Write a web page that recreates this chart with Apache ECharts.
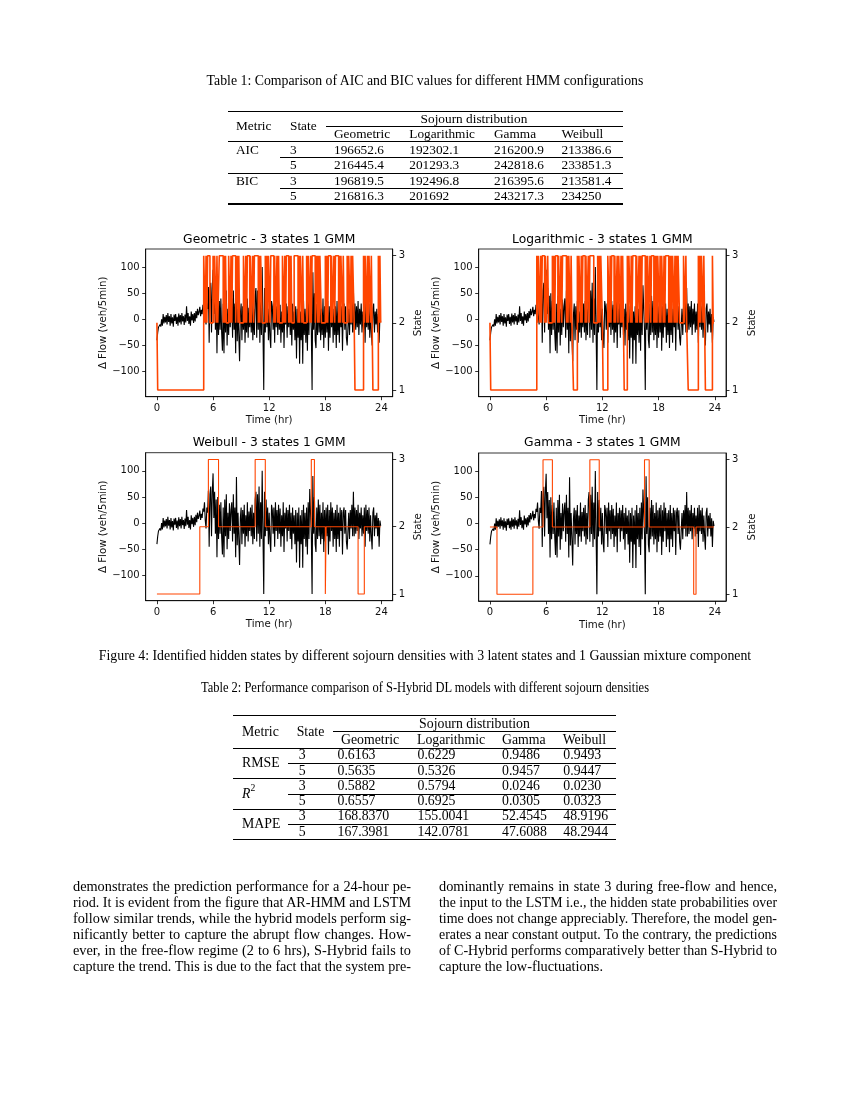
<!DOCTYPE html>
<html><head><meta charset="utf-8">
<script src="https://cdn.jsdelivr.net/npm/echarts@6/dist/echarts.min.js"></script>
<style>
html,body{margin:0;padding:0;background:#fff;}
#page{position:relative;width:850px;height:1100px;overflow:hidden;font-family:"Liberation Serif","Times New Roman",serif;color:#000;background:#fff;}
#chart{position:absolute;left:0;top:0;width:850px;height:1100px;}
.t{position:absolute;white-space:nowrap;line-height:1;transform-origin:0 50%;}
.rule{position:absolute;background:#000;}
sup{font-size:70%;line-height:0;position:relative;top:-0.1em;vertical-align:super;}
</style></head><body><div id="page"><div id="chart"></div></div>
<script>
// ---------------- DATA ----------------
const table1Caption = "Table 1: Comparison of AIC and BIC values for different HMM configurations";
const figureCaption = "Figure 4: Identified hidden states by different sojourn densities with 3 latent states and 1 Gaussian mixture component";
const table2Caption = "Table 2: Performance comparison of S-Hybrid DL models with different sojourn densities";
const sojournHeader = "Sojourn distribution";
const distributions = ["Geometric", "Logarithmic", "Gamma", "Weibull"];
const table1Metrics = ["AIC", "BIC"];
const stateCounts = ["3", "5"];
const table1Values = [
  ["196652.6", "192302.1", "216200.9", "213386.6"],
  ["216445.4", "201293.3", "242818.6", "233851.3"],
  ["196819.5", "192496.8", "216395.6", "213581.4"],
  ["216816.3", "201692", "243217.3", "234250"]
];
const table2Metrics = ["RMSE", "<i>R</i><sup>2</sup>", "MAPE"];
const table2Values = [
  ["0.6163", "0.6229", "0.9486", "0.9493"],
  ["0.5635", "0.5326", "0.9457", "0.9447"],
  ["0.5882", "0.5794", "0.0246", "0.0230"],
  ["0.6557", "0.6925", "0.0305", "0.0323"],
  ["168.8370", "155.0041", "52.4545", "48.9196"],
  ["167.3981", "142.0781", "47.6088", "48.2944"]
];
const leftColumnLines = [
  "demonstrates the prediction performance for a 24-hour pe-",
  "riod. It is evident from the figure that AR-HMM and LSTM",
  "follow similar trends, while the hybrid models perform sig-",
  "nificantly better to capture the abrupt flow changes. How-",
  "ever, in the free-flow regime (2 to 6 hrs), S-Hybrid fails to",
  "capture the trend. This is due to the fact that the system pre-"
];
const rightColumnLines = [
  "dominantly remains in state 3 during free-flow and hence,",
  "the input to the LSTM i.e., the hidden state probabilities over",
  "time does not change appreciably. Therefore, the model gen-",
  "erates a near constant output. To the contrary, the predictions",
  "of C-Hybrid performs comparatively better than S-Hybrid to",
  "capture the low-fluctuations."
];

// chart data: 5-minute samples over 24 hours (12 per hour)
const samplesPerHour = 12;
const flowDelta = [
  -40,-25,-15,-18,-10,-14,0,-12,10,-8,5,-6,
  8,-10,12,-5,6,-12,10,-8,4,-14,9,-3,
  10,-9,5,-12,11,-6,8,-10,12,-4,6,-11,
  9,-6,25,-3,12,-9,6,-12,15,-2,10,-7,
  12,-4,16,2,20,8,14,24,6,18,10,28,
  22,40,5,-10,30,20,62,-45,55,70,-25,60,
  95,10,60,-20,45,-65,50,-30,35,-20,40,-25,
  -60,30,-65,45,-25,55,-50,20,-30,38,-15,25,
  40,-35,55,-20,30,-65,88,-42,20,-30,-80,10,
  30,-40,25,-20,35,-45,15,-25,40,-35,22,-15,
  30,-25,35,-40,20,-30,45,60,-35,55,-20,70,
  -45,40,-30,100,-20,-135,60,-25,45,-15,30,-40,
  20,-35,-55,35,25,-20,30,-45,40,-15,25,-30,
  35,-20,28,-45,15,-25,40,-55,20,-10,30,-35,
  25,-15,35,-30,20,-50,30,-20,15,-40,25,-75,
  20,-35,30,-85,15,-40,25,-85,35,-30,20,-45,
  30,-60,40,-30,65,20,-20,-135,90,-20,50,-40,
  -55,30,-30,45,-25,35,-40,20,-30,40,-55,25,
  -35,30,-25,35,-60,25,-35,40,-15,30,-45,20,
  -30,25,-55,35,-30,20,-45,30,-15,25,-60,20,
  30,-20,25,-35,-50,-15,20,-30,25,-10,35,-25,
  60,-25,30,-20,25,-15,35,-30,20,-10,30,-25,
  15,-20,30,-45,35,-15,25,-20,30,-35,15,-25,
  -50,20,30,-25,15,-10,20,-25,10,-45,5,-5
];
// hidden state change points: [sample index, state]
const stateGeometric = [[0,2],[1,1],[60,3],[62,2],[63,3],[64,2],[65,3],[68,2],[72,3],[73,2],[74,3],[76,2],[77,3],[78,2],[80,3],[85,2],[86,3],[87,2],[88,3],[89,2],[92,3],[94,2],[95,3],[96,2],[97,3],[101,2],[103,3],[104,2],[105,3],[106,2],[111,3],[113,2],[114,3],[115,2],[116,3],[119,2],[120,3],[121,2],[123,3],[124,2],[125,3],[130,2],[131,3],[132,2],[133,3],[135,2],[139,3],[140,2],[141,3],[142,2],[143,3],[145,2],[146,3],[150,2],[151,3],[152,2],[154,3],[155,2],[156,3],[157,2],[161,3],[163,2],[164,3],[165,2],[166,3],[169,2],[170,3],[171,2],[172,3],[173,2],[176,3],[181,2],[182,3],[183,2],[184,3],[186,2],[187,3],[188,2],[192,3],[193,2],[194,3],[196,2],[197,3],[198,2],[199,3],[203,2],[205,3],[206,2],[207,3],[208,2],[209,3],[211,2],[216,3],[217,2],[218,3],[219,2],[220,3],[223,2],[224,3],[225,2],[227,3],[228,2],[229,3],[233,2],[234,3],[235,2],[236,3],[238,2],[239,3],[240,2],[244,3],[245,2],[246,3],[248,2],[249,3],[250,2],[251,3],[253,2],[254,1],[265,3],[266,2],[267,3],[269,2],[270,3],[271,2],[272,3],[274,2],[275,3],[276,2],[277,1],[284,3],[285,2],[286,3],[287,2]];
const stateLogarithmic = [[0,2],[1,1],[60,3],[61,2],[62,3],[64,2],[65,3],[66,2],[67,3],[70,2],[71,3],[72,2],[74,3],[75,2],[80,3],[81,2],[82,3],[83,2],[84,3],[87,2],[88,3],[89,2],[91,3],[92,2],[93,3],[98,2],[99,3],[100,2],[101,3],[103,2],[104,3],[105,2],[107,1],[112,3],[113,2],[114,3],[116,2],[117,3],[118,2],[119,3],[122,2],[123,3],[124,2],[126,3],[127,2],[128,3],[133,2],[138,3],[139,2],[140,3],[141,2],[142,3],[144,2],[145,1],[151,3],[153,2],[154,3],[155,2],[156,3],[159,2],[160,3],[161,2],[163,3],[164,2],[165,3],[167,2],[168,3],[169,2],[170,3],[171,2],[172,1],[176,3],[177,2],[178,3],[180,2],[181,3],[182,2],[183,3],[187,2],[188,3],[189,2],[191,3],[192,2],[193,3],[194,2],[195,3],[199,2],[200,3],[201,2],[202,3],[203,2],[205,3],[206,2],[207,3],[210,2],[211,3],[212,2],[213,3],[214,2],[215,3],[217,2],[218,3],[219,2],[220,3],[222,2],[223,3],[224,2],[225,3],[229,2],[230,3],[231,2],[232,3],[233,2],[234,3],[236,2],[237,3],[238,2],[239,3],[240,2],[241,3],[243,2],[248,3],[249,2],[251,3],[252,2],[254,1],[267,3],[268,2],[269,3],[270,2],[271,3],[273,2],[274,3],[275,2],[276,1],[285,3],[286,2]];
const stateWeibull = [[0,1],[55,2],[66,3],[79,2],[126,3],[139,2],[198,3],[202,2],[216,1],[217,2],[258,1],[266,2]];
const stateGamma = [[0,2],[9,1],[55,2],[68,3],[80,2],[128,3],[140,2],[198,3],[204,2],[261,1],[264,2]];
const panelTitles = ["Geometric - 3 states 1 GMM", "Logarithmic - 3 states 1 GMM", "Weibull - 3 states 1 GMM", "Gamma - 3 states 1 GMM"];
const panelStates = [stateGeometric, stateLogarithmic, stateWeibull, stateGamma];
const timeTicks = [0, 6, 12, 18, 24];
const flowTicks = [-100, -50, 0, 50, 100];
const stateTicks = [1, 2, 3];
const xAxisName = "Time (hr)";
const flowAxisName = "\u0394 Flow (veh/5min)";
const stateAxisName = "State";

// ---------------- LAYOUT ----------------
const page = document.getElementById('page');
const FS = 13.3;
function put(text, x, y, o = {}) {
  const d = document.createElement('div');
  d.className = 't';
  if (o.html) d.innerHTML = text; else d.textContent = text;
  const size = o.size || FS;
  d.style.fontSize = size + 'px';
  d.style.top = (y - size / 2) + 'px';
  d.style.left = x + 'px';
  page.appendChild(d);
  const w = d.getBoundingClientRect().width;
  if (o.width) {
    d.style.transform = 'scaleX(' + (o.width / w) + ')';
    if (o.align === 'center') d.style.left = (x - o.width / 2) + 'px';
  } else if (o.align === 'center') {
    d.style.left = (x - w / 2) + 'px';
  }
  return d;
}
function rule(x1, x2, y, t = 1) {
  const d = document.createElement('div');
  d.className = 'rule';
  d.style.left = x1 + 'px'; d.style.width = (x2 - x1) + 'px';
  d.style.top = (y - t / 2) + 'px'; d.style.height = t + 'px';
  page.appendChild(d);
}
function justifyLine(text, x, y, W, justify, size) {
  const d = put(text, x, y, {size: size});
  const w = d.getBoundingClientRect().width;
  if (w > W) d.style.transform = 'scaleX(' + (W / w) + ')';
  else if (justify) {
    const n = (text.match(/ /g) || []).length;
    if (n) d.style.wordSpacing = ((W - w) / n) + 'px';
  }
}

// Table 1
put(table1Caption, 425, 81, {align: 'center', size: 13.8});
rule(228, 623, 111.5, 1.2);
rule(326, 623, 126.7, 0.8);
rule(228, 623, 141.7, 0.8);
rule(280, 623, 157.7, 0.8);
rule(228, 623, 173.3, 0.8);
rule(280, 623, 188.3, 0.8);
rule(228, 623, 204, 1.2);
put(sojournHeader, 474, 118.3, {align: 'center'});
put("Metric", 236, 125.7);
put("State", 290, 125.7);
const t1ColX = [334, 409.3, 494, 561.5];
distributions.forEach((c, i) => put(c, t1ColX[i], 133.3));
const t1RowY = [149.3, 165, 180.5, 195.7];
table1Values.forEach((row, r) => {
  if (r % 2 === 0) put(table1Metrics[r / 2], 236, t1RowY[r]);
  put(stateCounts[r % 2], 290, t1RowY[r]);
  row.forEach((v, i) => put(v, t1ColX[i], t1RowY[r]));
});

// Figure caption & Table 2
put(figureCaption, 425, 656, {align: 'center', size: 13.8});
put(table2Caption, 425, 688, {align: 'center', size: 13.8, width: 448});
const T2 = 13.8;
rule(233, 616, 715.3, 1.2);
rule(333.3, 616, 731.3, 0.8);
rule(233, 616, 748, 0.8);
[763, 794, 824].forEach(y => rule(287.7, 616, y, 0.8));
[778.7, 809].forEach(y => rule(233, 616, y, 0.8));
rule(233, 616, 839.7, 1.2);
put(sojournHeader, 474.5, 723.7, {align: 'center', size: T2});
put("Metric", 242, 731.5, {size: T2});
put("State", 296.7, 731.5, {size: T2});
const t2ColX = [337.5, 417.5, 502, 563.3];
const t2HeadX = [341, 417, 502, 562.7];
distributions.forEach((c, i) => put(c, t2HeadX[i], 739.7, {size: T2}));
const t2RowY = [755.3, 770.7, 786.3, 801.3, 816.3, 832];
table2Metrics.forEach((m, k) => put(m, 242, (t2RowY[2 * k] + t2RowY[2 * k + 1]) / 2, {html: true, size: T2}));
table2Values.forEach((row, r) => {
  put(stateCounts[r % 2], 298.7, t2RowY[r], {size: T2});
  row.forEach((v, i) => put(v, t2ColX[i], t2RowY[r], {size: T2}));
});

// Body text (two columns)
const BODY = 14.3;
leftColumnLines.forEach((l, i) => justifyLine(l, 73, 886 + 16 * i, 338, true, BODY));
rightColumnLines.forEach((l, i) => justifyLine(l, 439, 886 + 16 * i, 338, i < rightColumnLines.length - 1, BODY));

// ---------------- CHART ----------------
const grids = [
  {left: 145.7, top: 249, width: 247, height: 147.7},
  {left: 478.7, top: 249, width: 247.3, height: 147.7},
  {left: 145.7, top: 452.7, width: 247, height: 148},
  {left: 478.7, top: 453, width: 247.3, height: 148}
];
const stateLineWidth = [1.6, 1.6, 1.1, 1.1];
const flowPoints = flowDelta.map((v, i) => [i / samplesPerHour, v]);
function statePoints(changes) {
  const pts = changes.map(c => [c[0] / samplesPerHour, c[1]]);
  const last = changes[changes.length - 1];
  pts.push([(flowDelta.length - 1) / samplesPerHour, last[1]]);
  return pts;
}
const minus = v => (v < 0 ? '\u2212' + Math.abs(v) : String(v));
const tickFont = {fontSize: 10, fontFamily: 'DejaVu Sans', color: '#111'};
const nameFont = {fontSize: 10.2, fontFamily: 'DejaVu Sans', color: '#111'};
const axisLine = {show: true, onZero: false, lineStyle: {color: '#000', width: 0.8}};
const tick = vals => ({show: true, customValues: vals, length: 3.5, inside: false, lineStyle: {color: '#000', width: 0.8}});

const option = {
  animation: false,
  backgroundColor: '#fff',
  grid: grids.map(g => Object.assign({show: true, borderColor: '#000', borderWidth: 0.8, backgroundColor: 'transparent', containLabel: false, outerBoundsMode: 'none'}, g)),
  xAxis: grids.map((g, i) => ({
    type: 'value', gridIndex: i, min: -1.2, max: 25.2, position: 'bottom',
    axisLine: axisLine, axisTick: tick(timeTicks),
    axisLabel: Object.assign({customValues: timeTicks, margin: 6.5, formatter: minus}, tickFont),
    splitLine: {show: false},
    name: xAxisName, nameLocation: 'middle', nameGap: 19, nameTextStyle: nameFont
  })),
  yAxis: [].concat(...grids.map((g, i) => [
    {
      type: 'value', gridIndex: i, position: 'left', min: -148, max: 134.5,
      axisLine: axisLine, axisTick: tick(flowTicks),
      axisLabel: Object.assign({customValues: flowTicks, margin: 6, formatter: minus}, tickFont),
      splitLine: {show: false},
      name: flowAxisName, nameLocation: 'middle', nameGap: 32, nameRotate: 90, nameTextStyle: nameFont
    },
    {
      type: 'value', gridIndex: i, position: 'right', min: 0.9, max: 3.1,
      axisLine: axisLine, axisTick: tick(stateTicks),
      axisLabel: Object.assign({customValues: stateTicks, margin: 6}, tickFont),
      splitLine: {show: false},
      name: stateAxisName, nameLocation: 'middle', nameGap: 21, nameRotate: 90, nameTextStyle: nameFont
    }
  ])),
  series: [].concat(
    grids.map((g, i) => ({
      type: 'line', xAxisIndex: i, yAxisIndex: 2 * i, data: flowPoints,
      showSymbol: false, symbol: 'none', z: 2, silent: true,
      lineStyle: {color: '#000', width: 1.1}
    })),
    grids.map((g, i) => ({
      type: 'line', xAxisIndex: i, yAxisIndex: 2 * i + 1, data: statePoints(panelStates[i]),
      step: 'end', showSymbol: false, symbol: 'none', z: 3, silent: true,
      lineStyle: {color: '#ff4500', width: stateLineWidth[i]}
    }))
  ),
  graphic: grids.map((g, i) => ({
    type: 'text', x: g.left + g.width / 2, y: (i < 2 ? 240 : 443.3),
    style: {text: panelTitles[i], align: 'center', verticalAlign: 'middle', textAlign: 'center', textVerticalAlign: 'middle', font: '12.3px "DejaVu Sans"', fill: '#000'}
  }))
};
const chart = echarts.init(document.getElementById('chart'), null, {renderer: 'canvas'});
chart.setOption(option);
</script>
</body></html>
